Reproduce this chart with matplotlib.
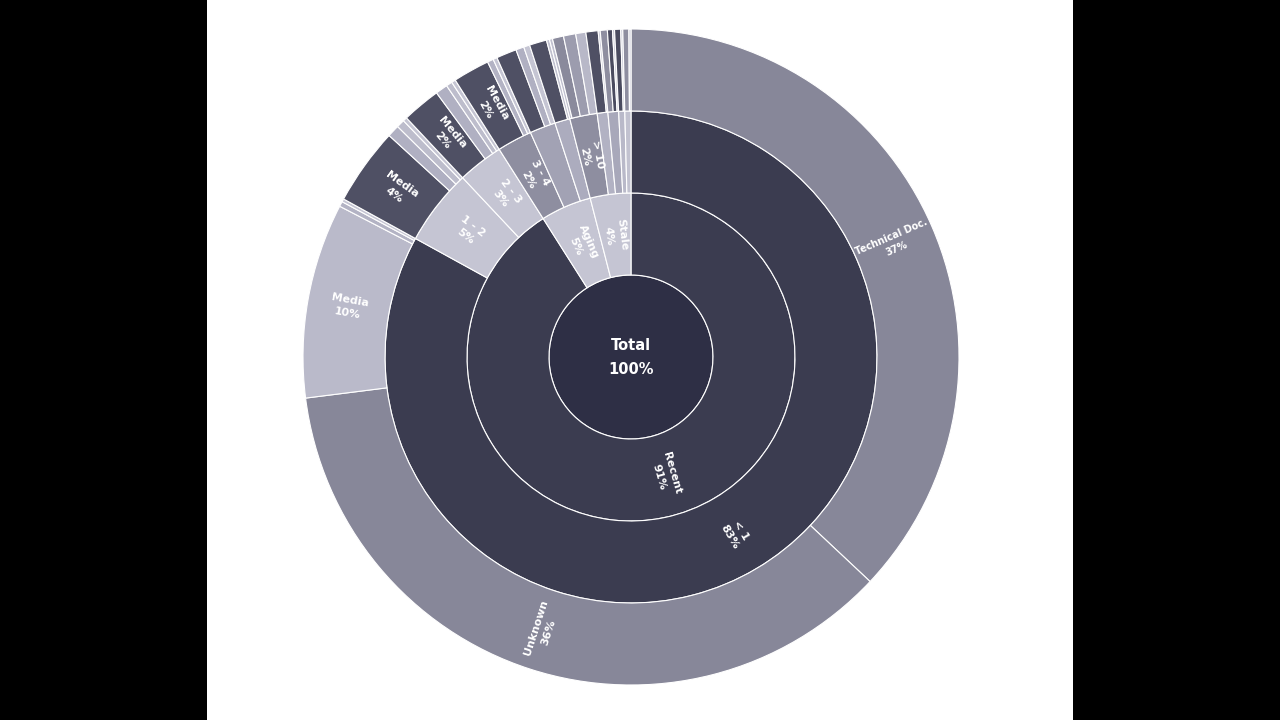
import math
import matplotlib.pyplot as plt
from matplotlib.patches import Wedge, Circle

plt.rcParams['font.family'] = ['DejaVu Sans']

# sunburst data, clockwise from 12 o'clock, values in % of total
ring1_names = ["Recent", "Aging", "Stale"]
ring1_values = [91, 5, 4]

ring2_names = ["< 1", "1 - 2", "2 - 3", "3 - 4", "4 - 5", "5 - 6",
               "> 10", "9 - 10", "8 - 9", "7 - 8", "6 - 7"]
ring2_values = [83, 5, 3, 2.3, 1.7, 1.0, 1.8, 0.7, 0.7, 0.4, 0.4]
ring2_parents = ["Recent", "Recent", "Recent", "Aging", "Aging", "Aging",
                 "Stale", "Stale", "Stale", "Stale", "Stale"]

ring3_names = ["Technical Doc.", "Unknown", "Media", "Archive", "Code",
               "Media", "Technical Doc.", "Unknown", "Archive",
               "Media", "Technical Doc.", "Unknown", "Archive",
               "Media", "Technical Doc.", "Unknown",
               "Media", "Technical Doc.", "Unknown",
               "Media", "Technical Doc.",
               "Archive", "Technical Doc.", "Unknown", "Media",
               "Media", "Unknown",
               "Technical Doc.", "Media", "Unknown",
               "Media", "Unknown",
               "Technical Doc.", "Unknown"]
ring3_values = [37, 36, 9.6, 0.25, 0.15,
                3.8, 0.6, 0.4, 0.2,
                1.9, 0.6, 0.3, 0.2,
                1.8, 0.3, 0.2,
                1.0, 0.4, 0.3,
                0.85, 0.15,
                0.15, 0.55, 0.6, 0.5,
                0.6, 0.1,
                0.35, 0.25, 0.1,
                0.3, 0.1,
                0.3, 0.1]
ring3_parents = ["< 1"] * 5 + ["1 - 2"] * 4 + ["2 - 3"] * 4 + ["3 - 4"] * 3 \
    + ["4 - 5"] * 3 + ["5 - 6"] * 2 + ["> 10"] * 4 + ["9 - 10"] * 2 \
    + ["8 - 9"] * 3 + ["7 - 8"] * 2 + ["6 - 7"] * 2

# colours
total_color = "#2e2f45"
ring1_colors = ["#3b3c50", "#c5c5d3", "#c5c5d3"]
ring2_colors = ["#3b3c50", "#c5c5d3", "#c5c5d3", "#8e8ea0", "#a2a2b4", "#acacbe",
                "#8e8ea0", "#b2b2c3", "#a8a8ba", "#b9b9c9", "#c2c2d0"]
ring3_colors = ["#878799", "#878799", "#babaca", "#b3b3c4", "#c5c5d3",
                "#4f5064", "#b0b0c2", "#bdbdcc", "#c5c5d3",
                "#4f5064", "#b0b0c2", "#bdbdcc", "#c5c5d3",
                "#4f5064", "#b3b3c4", "#c5c5d3",
                "#4f5064", "#b0b0c2", "#c5c5d3",
                "#4f5064", "#c0c0cf",
                "#c0c0cf", "#8a8a9c", "#9c9cae", "#b8b8c8",
                "#4f5064", "#c5c5d3",
                "#8e8ea0", "#4a4b5f", "#c5c5d3",
                "#4a4b5f", "#c5c5d3",
                "#8e8ea0", "#c5c5d3"]

cx, cy = 631, 363
ring_w = 82
label_min = 1.75

fig = plt.figure(figsize=(12.8, 7.2), dpi=100, facecolor="black")
ax = fig.add_axes([207 / 1280, 0, 866 / 1280, 1])
ax.set_facecolor("white")
ax.set_xlim(207, 1073)
ax.set_ylim(0, 720)
ax.set_xticks([])
ax.set_yticks([])
for s in ax.spines.values():
    s.set_visible(False)
renderer = fig.canvas.get_renderer()


def put_label(name, val, start, end, r_mid):
    # radial text, flipped so it stays readable, shrunk to fit the ring
    a = 90 - (start + end) / 2
    x = cx + r_mid * math.cos(math.radians(a))
    y = cy + r_mid * math.sin(math.radians(a))
    rot = (a + 180) % 360 - 180
    if rot > 90:
        rot -= 180
    elif rot < -90:
        rot += 180
    t = ax.text(x, y, f"{name}\n{round(val)}%", rotation=0, rotation_mode="anchor",
                ha="center", va="center", multialignment="center", color="white",
                fontsize=8, fontweight="bold", linespacing=1.4)
    w = t.get_window_extent(renderer).width
    if w > ring_w - 4:
        t.set_fontsize(8 * (ring_w - 4) / w)
    t.set_rotation(rot)


def draw_ring(names, values, parents, parent_span, r_in, colors):
    spans = []
    cursor = {}
    for name, val, par, col in zip(names, values, parents, colors):
        start = cursor.get(par, parent_span[par][0])
        end = start + val * 3.6
        cursor[par] = end
        ax.add_patch(Wedge((cx, cy), r_in + ring_w, 90 - end, 90 - start,
                           width=ring_w, facecolor=col, edgecolor="white", lw=0.8))
        spans.append((start, end))
        if val >= label_min:
            put_label(name, val, start, end, r_in + ring_w / 2)
    return spans


ax.add_patch(Circle((cx, cy), ring_w, facecolor=total_color, edgecolor="white", lw=0.8))
ax.text(cx, cy - 1, "Total\n100%", ha="center", va="center", multialignment="center",
        color="white", fontsize=10.5, fontweight="bold", linespacing=1.75)

s1 = draw_ring(ring1_names, ring1_values, ["Total"] * 3, {"Total": (0, 360)},
               ring_w, ring1_colors)
s2 = draw_ring(ring2_names, ring2_values, ring2_parents, dict(zip(ring1_names, s1)),
               2 * ring_w, ring2_colors)
s3 = draw_ring(ring3_names, ring3_values, ring3_parents, dict(zip(ring2_names, s2)),
               3 * ring_w, ring3_colors)

fig.savefig("out.png", dpi=100, facecolor="black")
